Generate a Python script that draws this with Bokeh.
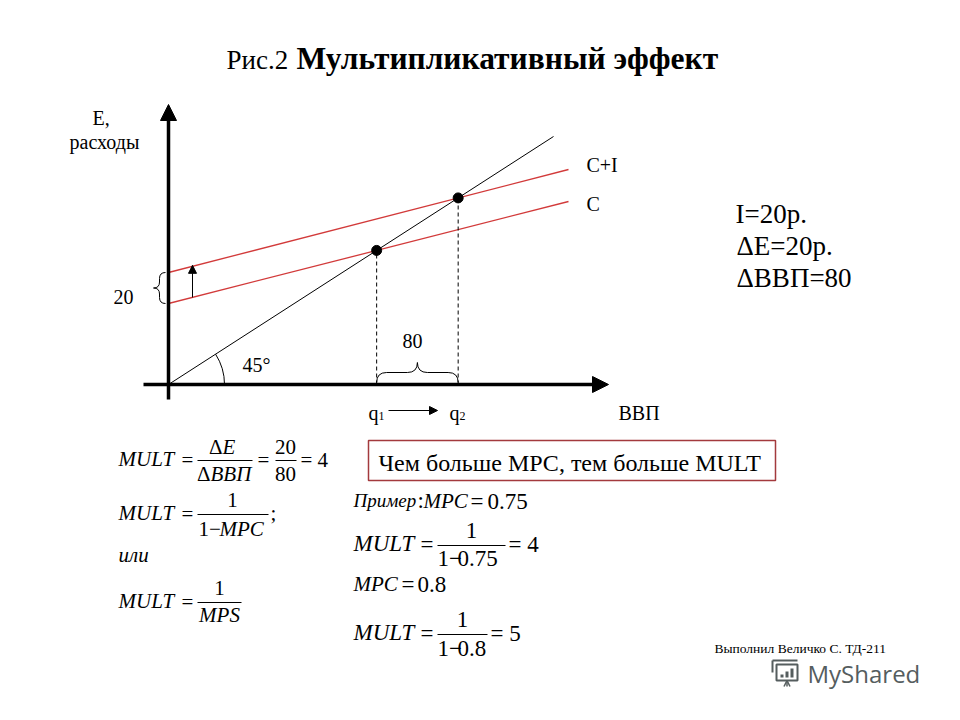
import math
from bokeh.plotting import figure
from bokeh.models import Range1d, Label, Arrow, NormalHead
from bokeh.embed import file_html
from bokeh.resources import INLINE

# ---------------- data (diagram units: origin at axes crossing) ----------------
guide_x = [0, 385]          # 45-degree line (E = GDP)
guide_y = [0, 248]
c_x = [0, 400]              # consumption line C
c_y = [81, 183]
ci_x = [0, 400]             # C + I line
ci_y = [112, 215]
invest = 20                 # I = 20 p.
delta_gdp = 80              # change of GDP
mpc_examples = [0.75, 0.8]
mult_examples = [4, 5]

SERIF = "Liberation Serif"
W, H = 944, 704
OX, OY = 168, 384  # page position of axes crossing


def S(X, Y):
    """page pixel -> data coords"""
    return X - OX, OY - Y


p = figure(width=W, height=H, x_range=Range1d(-OX, W - OX),
           y_range=Range1d(OY - H, OY), output_backend="svg",
           toolbar_location=None, x_axis_location=None, y_axis_location=None,
           min_border=0)
p.grid.visible = False
p.outline_line_color = None
p.background_fill_color = "white"
p.border_fill_color = "white"


def txt(X, Y, s, size=20, style="normal", align="left", base="middle",
        color="black", font=SERIF):
    x, y = S(X, Y)
    p.add_layout(Label(x=x, y=y, text=s, text_font=font,
                       text_font_size=f"{size}px", text_font_style=style,
                       text_align=align, text_baseline=base, text_color=color))


def hline(X0, X1, Y, w=1.0, color="black"):
    x0, y0 = S(X0, Y)
    x1, _ = S(X1, Y)
    p.segment(x0=[x0], y0=[y0], x1=[x1], y1=[y0], line_color=color, line_width=w)


def brace(ax, ay, bx, by, depth, color="black", w=1.0):
    L = math.hypot(bx - ax, by - ay)
    ux, uy = (bx - ax) / L, (by - ay) / L
    nx, ny = -uy, ux
    h = depth / 2.0

    def P(s, t):
        return ax + ux * s + nx * t, ay + uy * s + ny * t
    quads = [((0, 0), (0, h), (h, h)),
             ((L / 2 - h, h), (L / 2, h), (L / 2, 2 * h)),
             ((L / 2, 2 * h), (L / 2, h), (L / 2 + h, h)),
             ((L - h, h), (L, h), (L, 0))]
    for a, c, b in quads:
        (x0, y0), (cx, cy), (x1, y1) = P(*a), P(*c), P(*b)
        p.quadratic(x0=[x0], y0=[y0], x1=[x1], y1=[y1], cx=[cx], cy=[cy],
                    line_color=color, line_width=w)
    for a, b in [((h, h), (L / 2 - h, h)), ((L / 2 + h, h), (L - h, h))]:
        (x0, y0), (x1, y1) = P(*a), P(*b)
        p.segment(x0=[x0], y0=[y0], x1=[x1], y1=[y1], line_color=color, line_width=w)


# ---------------- title ----------------
txt(226, 59, "Рис.2", size=27)
txt(296, 58, "Мультипликативный эффект", size=31.5, style="bold")

# ---------------- axes ----------------
ax0, _ = S(143, OY)
ax1, _ = S(608, OY)
p.add_layout(Arrow(end=NormalHead(size=16, fill_color="black", line_color="black", line_width=1),
                   x_start=ax0, y_start=0, x_end=ax1, y_end=0, line_width=3.5))
_, by0 = S(OX, 399)
_, by1 = S(OX, 104)
p.add_layout(Arrow(end=NormalHead(size=16, fill_color="black", line_color="black", line_width=1),
                   x_start=0, y_start=by0, x_end=0, y_end=by1, line_width=3.5))

# ---------------- lines ----------------
p.line(guide_x, guide_y, line_color="black", line_width=1)
p.line(c_x, c_y, line_color="#d23a3a", line_width=1.3)
p.line(ci_x, ci_y, line_color="#d23a3a", line_width=1.3)

s45 = (guide_y[1] - guide_y[0]) / (guide_x[1] - guide_x[0])
sc = (c_y[1] - c_y[0]) / (c_x[1] - c_x[0])
sci = (ci_y[1] - ci_y[0]) / (ci_x[1] - ci_x[0])
q1 = c_y[0] / (s45 - sc)
q2 = ci_y[0] / (s45 - sci)
eq_x = [q1, q2]
eq_y = [q1 * s45, q2 * s45]

p.segment(x0=eq_x, y0=[0, 0], x1=eq_x, y1=eq_y, line_color="black",
          line_width=1, line_dash="4 3")
p.scatter(eq_x, eq_y, size=10, color="black")

# shift arrow (I)
sx = 24
p.add_layout(Arrow(end=NormalHead(size=8, fill_color="black", line_color="black", line_width=1),
                   x_start=sx, y_start=c_y[0] + sc * sx, x_end=sx,
                   y_end=ci_y[0] + sci * sx + 1, line_width=1))

# angle arc
p.arc(x=[0], y=[0], radius=56, start_angle=0, end_angle=math.atan(s45),
      line_color="black", line_width=1)

# braces
brace(-3, c_y[0], -3, ci_y[0], 12)
brace(q1, 2, q2, 2, 20)

# ---------------- diagram labels ----------------
txt(92, 117, "Е,", size=20)
txt(104, 141, "расходы", size=20, align="center")
txt(113, 296, f"{invest}", size=20)
txt(412, 340, f"{delta_gdp}", size=20, align="center")
txt(242, 364, "45°", size=20)
txt(586, 164, "C+I", size=20)
txt(586, 203, "C", size=20)
txt(618, 412, "ВВП", size=20)
txt(368, 412, "q", size=20)
txt(378, 415, "1", size=12)
txt(449, 412, "q", size=20)
txt(459, 415, "2", size=12)
a0x, a0y = S(388, 410)
a1x, _ = S(437, 410)
p.add_layout(Arrow(end=NormalHead(size=8, fill_color="black", line_color="black", line_width=1),
                   x_start=a0x, y_start=a0y, x_end=a1x, y_end=a0y, line_width=1))

# right-hand notes
txt(735, 213, f"I={invest}р.", size=27)
txt(736, 245, f"ΔE={invest}р.", size=27)
txt(736, 277, f"ΔВВП={delta_gdp}", size=27)

# ---------------- formulas left ----------------
FS = 21
txt(118, 458, "MULT", size=FS, style="italic")
txt(181, 459, "=", size=FS)
hline(197, 252, 460)
txt(222, 446, "Δ", size=FS, align="right")
txt(222, 446, "E", size=FS, style="italic")
txt(210, 473, "Δ", size=FS, align="right")
txt(210, 473, "ВВП", size=FS, style="italic")
txt(257, 459, "=", size=FS)
hline(275, 296, 460)
txt(285, 446, f"{invest}", size=FS, align="center")
txt(285, 473, f"{delta_gdp}", size=FS, align="center")
txt(300, 459, f"= {delta_gdp // invest}", size=FS)

txt(118, 512, "MULT", size=FS, style="italic")
txt(181, 513, "=", size=FS)
hline(197, 268, 514)
txt(232, 499, "1", size=FS, align="center")
txt(198, 528, "1−", size=FS)
txt(219, 528, "MPC", size=FS, style="italic")
txt(270, 512, ";", size=FS)

txt(118, 554, "или", size=FS, style="italic")

txt(118, 600, "MULT", size=FS, style="italic")
txt(181, 601, "=", size=FS)
hline(197, 241, 602)
txt(219, 587, "1", size=FS, align="center")
txt(219, 614, "MPS", size=FS, style="italic", align="center")

# ---------------- box ----------------
bx0, bty = S(368, 440)
bx1, bby = S(775, 480)
p.quad(left=[bx0], right=[bx1], top=[bty], bottom=[bby], fill_color=None,
       line_color="#a33a3d", line_width=1.5)
txt(378, 462, "Чем больше МРС, тем больше MULT", size=24)

# ---------------- formulas right ----------------
FR = 23
txt(353, 500, "Пример", size=19, style="italic")
txt(417, 500, ":", size=FR)
txt(423, 500, "MPC", size=21, style="italic")
txt(470, 501, "=", size=FR)
txt(487, 501, f"{mpc_examples[0]}", size=FR)

txt(353, 543, "MULT", size=FR, style="italic")
txt(420, 544, "=", size=FR)
hline(437, 505, 545)
txt(471, 530, "1", size=FR, align="center")
txt(437, 558, "1−", size=FR)
txt(457, 558, f"{mpc_examples[0]}", size=FR)
txt(508, 544, f"= {mult_examples[0]}", size=FR)

txt(353, 583, "MPC", size=21, style="italic")
txt(401, 584, "=", size=FR)
txt(417, 584, f"{mpc_examples[1]}", size=FR)

txt(353, 632, "MULT", size=FR, style="italic")
txt(420, 633, "=", size=FR)
hline(437, 487, 634)
txt(462, 619, "1", size=FR, align="center")
txt(437, 648, "1−", size=FR)
txt(457, 648, f"{mpc_examples[1]}", size=FR)
txt(490, 633, f"= {mult_examples[1]}", size=FR)

# ---------------- footer ----------------
txt(714, 648, "Выполнил Величко С. ТД-211", size=13.5)
txt(807, 673, "MyShared", size=24, color="#555d5e", font="Open Sans")
ix0, iy0 = S(776, 664)
ix1, iy1 = S(797, 680)
p.quad(left=[ix0], right=[ix1], top=[iy0], bottom=[iy1], fill_color=None,
       line_color="#555d5e", line_width=2)
for k, hgt in enumerate([3, 6, 9]):
    bxl, bbt = S(780 + k * 5, 677)
    p.quad(left=[bxl], right=[bxl + 3], bottom=[bbt], top=[bbt + hgt],
           fill_color="#555d5e", line_color=None)
for dx in [-3, 0, 3]:
    l0x, l0y = S(786.5, 680)
    p.segment(x0=[l0x], y0=[l0y], x1=[l0x + dx], y1=[l0y - 6],
              line_color="#555d5e", line_width=1.5)
s0x, s0y = S(772, 660)
s1x, _ = S(797, 660)
p.segment(x0=[s0x], y0=[s0y], x1=[s1x], y1=[s0y], line_color="#555d5e", line_width=2)
p.segment(x0=[s0x], y0=[s0y], x1=[s0x], y1=[s0y - 12], line_color="#555d5e", line_width=2)

open("out.html", "w").write(file_html(p, INLINE))
